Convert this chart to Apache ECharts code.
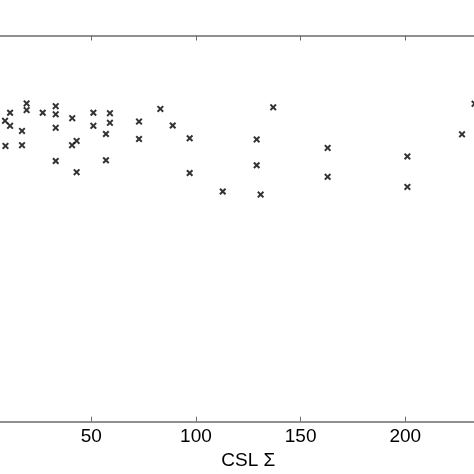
<!DOCTYPE html>
<html>
<head>
<meta charset="utf-8">
<script src="https://cdn.jsdelivr.net/npm/echarts@6/dist/echarts.min.js"></script>
<style>
html,body{margin:0;padding:0;background:#fff;}
#chart{width:474px;height:474px;}
</style>
</head>
<body>
<div id="chart"></div>
<script>
// CSL Σ values (x) and measured value (y, axis not visible in the crop)
const cslValues = [11.2, 8.8, 11.2, 9.0, 19.1, 19.1, 16.9, 16.9, 26.8, 33.0, 33.0, 33.0, 33.0,
  40.9, 40.8, 43.0, 43.0, 51.0, 51.0, 58.9, 58.9, 57.0, 57.0, 83.0, 72.8, 88.9, 72.8,
  97.0, 97.0, 112.8, 136.9, 129.0, 129.0, 130.9, 162.9, 162.9, 201.0, 201.0, 227.1, 233.1];
const yValues = [80.0, 77.9, 76.6, 71.4, 82.4, 80.7, 75.3, 71.6, 80.0, 81.7, 79.6, 76.1, 67.5,
  78.6, 71.6, 72.7, 64.6, 80.0, 76.6, 79.9, 77.4, 74.5, 67.7, 81.0, 77.7, 76.7, 73.2,
  73.4, 64.4, 59.6, 81.4, 73.1, 66.4, 58.8, 70.9, 63.4, 68.7, 60.8, 74.4, 82.3];
const xTicks = [50, 100, 150, 200];
const xName = 'CSL \u03A3';

const points = cslValues.map((x, i) => [x, yValues[i]]);
const cross = 'path://M0,2L2,0L5,3L8,0L10,2L7,5L10,8L8,10L5,7L2,10L0,8L3,5Z';
const axisColor = '#6b6b6b';
const fontFamily = '"Liberation Sans", Arial, Helvetica, sans-serif';

const chart = echarts.init(document.getElementById('chart'));
chart.setOption({
  animation: false,
  backgroundColor: '#fff',
  grid: { left: -13.37, right: -35.96, top: 35.5, bottom: 52.3, containLabel: false, outerBoundsMode: 'none' },
  xAxis: [{
    type: 'value', position: 'bottom', min: 0, max: 250, interval: 50,
    name: xName, nameLocation: 'middle', nameGap: 24,
    nameTextStyle: { color: '#000', fontSize: 19, fontFamily: fontFamily },
    axisLine: { show: true, lineStyle: { color: axisColor, width: 1.5 } },
    axisTick: { show: true, inside: true, length: 5, lineStyle: { color: axisColor, width: 1 } },
    axisLabel: { color: '#000', fontSize: 19, fontFamily: fontFamily, margin: 6,
      formatter: v => xTicks.includes(v) ? String(v) : '' },
    splitLine: { show: false }
  }, {
    type: 'value', position: 'top', min: 0, max: 250, interval: 50,
    axisLine: { show: true, lineStyle: { color: axisColor, width: 1.5 } },
    axisTick: { show: true, inside: true, length: 5, lineStyle: { color: axisColor, width: 1 } },
    axisLabel: { show: false },
    splitLine: { show: false }
  }],
  yAxis: { type: 'value', min: 0, max: 100, show: false },
  series: [{
    type: 'scatter', xAxisIndex: 0, data: points,
    symbol: cross, symbolSize: 7,
    itemStyle: { color: '#000' },
    clip: false
  }]
});
</script>
</body>
</html>
